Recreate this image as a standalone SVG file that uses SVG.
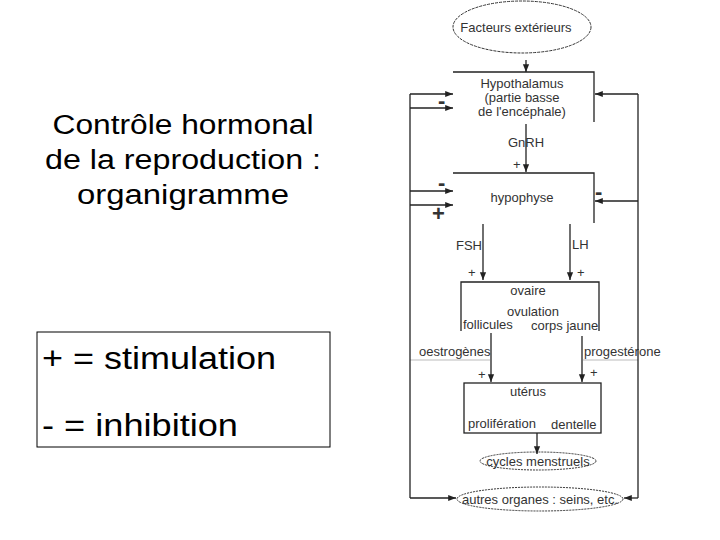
<svg xmlns="http://www.w3.org/2000/svg" width="720" height="540" viewBox="0 0 720 540">
<defs>
<marker id="a" viewBox="0 0 10 10" refX="10" refY="5" markerWidth="6" markerHeight="6" orient="auto"><path d="M0,1 L10,5 L0,9 z" fill="#222"/></marker>
<style>
.t{font-family:"Liberation Sans",Arial,sans-serif;fill:#333;font-size:13px}
.c{text-anchor:middle}
.l{stroke:#222;stroke-width:1.3;fill:none}
.g{stroke:#bbb;stroke-width:1;fill:none}
.s{font-family:"Liberation Sans",Arial,sans-serif;fill:#333;font-size:22px;font-weight:bold}
.b{font-family:"Liberation Sans",Arial,sans-serif;fill:#000}
</style>
</defs>
<rect width="720" height="540" fill="#fff"/>
<g id="title"><text class="b c" font-size="27" x="183" y="134" textLength="261" lengthAdjust="spacingAndGlyphs">Contrôle hormonal</text><text class="b c" font-size="27" x="183" y="169" textLength="276" lengthAdjust="spacingAndGlyphs">de la reproduction :</text><text class="b c" font-size="27" x="183" y="204" textLength="212" lengthAdjust="spacingAndGlyphs">organigramme</text></g>
<g id="legend"><rect x="37" y="332" width="293" height="115" fill="none" stroke="#000" stroke-width="1"/><text class="b" font-size="31" x="42" y="369" textLength="234" lengthAdjust="spacingAndGlyphs">+ = stimulation</text><text class="b" font-size="31" x="42" y="436" textLength="196" lengthAdjust="spacingAndGlyphs">- = inhibition</text></g>
<g id="facteurs"><ellipse cx="522" cy="27" rx="69" ry="26" fill="none" stroke="#333" stroke-dasharray="3,1"/><text class="t c" x="516" y="32">Facteurs extérieurs</text></g>
<g id="hypothalamus"><path class="l" d="M453,72 H594 V122"/><text class="t c" x="522" y="88">Hypothalamus</text><text class="t c" x="522" y="102">(partie basse</text><text class="t c" x="522" y="116">de l'encéphale)</text></g>
<g id="hypophyse"><path class="l" d="M453,173 H594 V223"/><text class="t c" x="522" y="202">hypophyse</text></g>
<g id="ovaire"><path class="l" d="M461,331 V282 H599 V331"/><text class="t c" x="528" y="295">ovaire</text><text class="t c" x="533" y="316">ovulation</text><text class="t" x="463" y="329">follicules</text><text class="t" x="531" y="330">corps jaune</text></g>
<g id="uterus"><rect class="l" x="464" y="383" width="137" height="50"/><text class="t c" x="528" y="396">utérus</text><text class="t" x="468" y="428">prolifération</text><text class="t" x="551" y="429">dentelle</text></g>
<g id="cycles"><ellipse cx="538" cy="461" rx="58" ry="9" fill="none" stroke="#333" stroke-dasharray="2,1"/><text class="t c" x="538" y="466">cycles menstruels</text></g>
<g id="autres"><ellipse cx="540" cy="499" rx="83" ry="12" fill="none" stroke="#333" stroke-dasharray="2,1"/><text class="t c" x="540" y="504">autres organes : seins, etc.</text></g>
<g id="connectors">
<path class="l" d="M526,60 V72" marker-end="url(#a)"/>
<path class="l" d="M526,124 V172" marker-end="url(#a)"/>
<text class="t c" x="526" y="147" font-size="11">GnRH</text><text class="t" x="513" y="169" font-size="11">+</text>
<path class="l" d="M483,224 V280" marker-end="url(#a)"/><text class="t" x="456" y="250">FSH</text><text class="t" x="468" y="277" font-size="11">+</text>
<path class="l" d="M570,224 V280" marker-end="url(#a)"/><text class="t" x="572" y="249">LH</text><text class="t" x="577" y="277" font-size="11">+</text>
<path class="l" d="M491,333 V382" marker-end="url(#a)"/><text class="t" x="419" y="356">oestrogènes</text><text class="t" x="478" y="379" font-size="11">+</text>
<path class="l" d="M582,336 V382" marker-end="url(#a)"/><text class="t" x="584" y="356">progestérone</text><text class="t" x="590" y="377" font-size="11">+</text>
<path class="g" d="M410,360 H490 M583,360 H638"/>
<path class="l" d="M537,433 V454" marker-end="url(#a)"/>
<path class="l" d="M410,94 V498"/>
<path class="l" d="M410,94 H453" marker-end="url(#a)"/><path class="l" d="M410,108 H453" marker-end="url(#a)"/>
<path class="l" d="M410,191 H453" marker-end="url(#a)"/><path class="l" d="M410,205 H453" marker-end="url(#a)"/>
<path class="l" d="M410,498 H456" stroke-width="2" marker-end="url(#a)"/>
<path class="l" d="M638,94 V498"/>
<path class="l" d="M638,94 H595" marker-end="url(#a)"/><path class="l" d="M638,201 H595" marker-end="url(#a)"/>
<path class="l" d="M638,498 H624" stroke-width="2" marker-end="url(#a)"/>
<text class="s" x="438" y="108">-</text><text class="s" x="438" y="190">-</text><text class="s" x="432" y="221">+</text><text class="s" x="595" y="199">-</text>
</g>
</svg>
